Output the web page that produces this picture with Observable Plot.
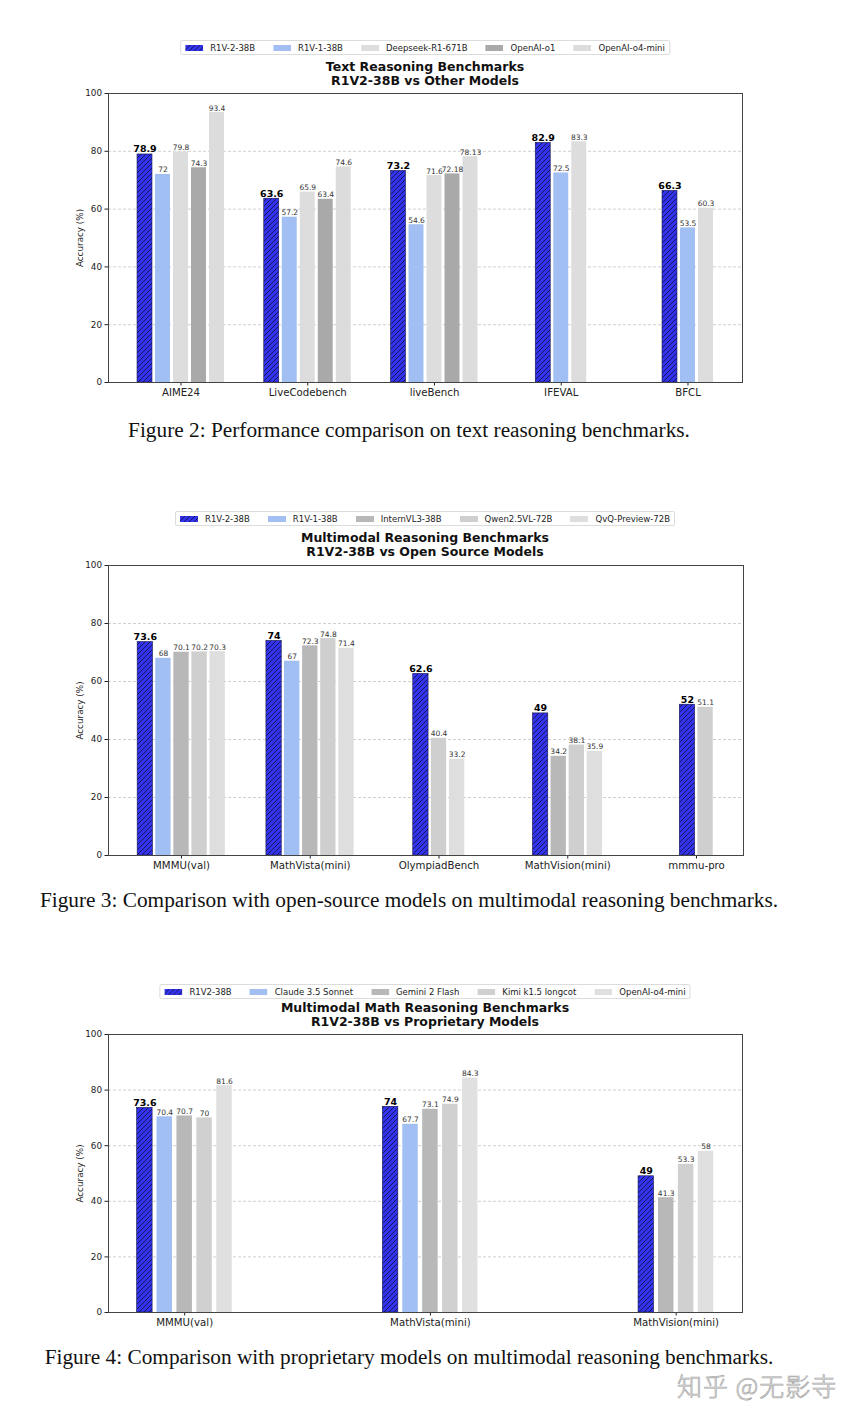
<!DOCTYPE html>
<html><head><meta charset="utf-8">
<script src="https://cdn.jsdelivr.net/npm/d3@7"></script>
<script src="https://cdn.jsdelivr.net/npm/@observablehq/plot@0.6"></script>
<style>
body{margin:0;background:#fff;width:859px;height:1420px;position:relative;overflow:hidden;font-family:"DejaVu Sans";}
.legend{position:absolute;left:425px;transform:translateX(-50%);display:flex;align-items:center;box-sizing:border-box;height:15px;border:1px solid #dcdcdc;border-radius:2px;padding:0 4px;font-size:8.5px;color:#222;background:#fff;white-space:nowrap;z-index:2}
.item{display:flex;align-items:center;margin-right:18px}
.item:last-child{margin-right:0}
.sw{width:18px;height:6px;margin-right:7px;display:block}
.title{position:absolute;left:0;width:850px;text-align:center;font-weight:bold;font-size:12.5px;line-height:14px;color:#111;z-index:2}
.caption{position:absolute;left:0;width:818px;text-align:center;font-family:"Liberation Serif";font-size:21.3px;line-height:24px;color:#111;white-space:nowrap}
.chart{position:absolute;left:0;z-index:1}
.wm{position:absolute;left:677px;top:1367px;font-family:"Noto Sans CJK SC";font-size:25px;font-weight:300;color:#f2f2f2;-webkit-text-stroke:0.7px #a8a8a8;letter-spacing:1px}
</style></head><body>
<svg width="0" height="0" style="position:absolute"><defs>
<pattern id="hatch" patternUnits="userSpaceOnUse" width="5" height="5">
<rect width="5" height="5" fill="#3333ee"/>
<path d="M-1,1 l2,-2 M0,5 l5,-5 M4,6 l2,-2" stroke="#141450" stroke-width="0.9"/>
</pattern></defs></svg>

<div class="chart" id="c1" style="top:85px"></div>
<div class="legend" id="leg1" style="top:40px"></div>
<div class="title" style="top:60px">Text Reasoning Benchmarks<br>R1V2-38B vs Other Models</div>
<div class="caption" style="top:418px">Figure 2: Performance comparison on text reasoning benchmarks.</div>

<div class="chart" id="c2" style="top:557px"></div>
<div class="legend" id="leg2" style="top:511px"></div>
<div class="title" style="top:531px">Multimodal Reasoning Benchmarks<br>R1V2-38B vs Open Source Models</div>
<div class="caption" style="top:888px">Figure 3: Comparison with open-source models on multimodal reasoning benchmarks.</div>

<div class="chart" id="c3" style="top:1026px"></div>
<div class="legend" id="leg3" style="top:984px"></div>
<div class="title" style="top:1001px">Multimodal Math Reasoning Benchmarks<br>R1V2-38B vs Proprietary Models</div>
<div class="caption" style="top:1345px">Figure 4: Comparison with proprietary models on multimodal reasoning benchmarks.</div>

<div class="wm">知乎 @无影寺</div>

<script>
// ---------- Chart 1: text reasoning ----------
const textGroups = ["AIME24", "LiveCodebench", "liveBench", "IFEVAL", "BFCL"];
const textSeries = ["R1V-2-38B", "R1V-1-38B", "Deepseek-R1-671B", "OpenAI-o1", "OpenAI-o4-mini"];
const textColors = ["url(#hatch)", "#a2bff4", "#dddddd", "#a9a9a9", "#dcdcdc"];
const textR1V2 = [78.9, 63.6, 73.2, 82.9, 66.3];
const textR1V1 = [72, 57.2, 54.6, 72.5, 53.5];
const textDeepseek = [79.8, 65.9, 71.6, 83.3, 60.3];
const textO1 = [74.3, 63.4, 72.18, null, null];
const textO4mini = [93.4, 74.6, 78.13, null, null];

// ---------- Chart 2: multimodal vs open source ----------
const mmGroups = ["MMMU(val)", "MathVista(mini)", "OlympiadBench", "MathVision(mini)", "mmmu-pro"];
const mmSeries = ["R1V-2-38B", "R1V-1-38B", "InternVL3-38B", "Qwen2.5VL-72B", "QvQ-Preview-72B"];
const mmColors = ["url(#hatch)", "#a2bff4", "#b8b8b8", "#cfcfcf", "#dedede"];
const mmR1V2 = [73.6, 74, 62.6, 49, 52];
const mmR1V1 = [68, 67, null, null, null];
const mmInternVL3 = [70.1, 72.3, null, 34.2, null];
const mmQwen = [70.2, 74.8, 40.4, 38.1, 51.1];
const mmQvQ = [70.3, 71.4, 33.2, 35.9, null];

// ---------- Chart 3: multimodal math vs proprietary ----------
const prGroups = ["MMMU(val)", "MathVista(mini)", "MathVision(mini)"];
const prSeries = ["R1V2-38B", "Claude 3.5 Sonnet", "Gemini 2 Flash", "Kimi k1.5 longcot", "OpenAI-o4-mini"];
const prColors = ["url(#hatch)", "#a2bff4", "#b8b8b8", "#d0d0d0", "#e0e0e0"];
const prR1V2 = [73.6, 74, 49];
const prClaude = [70.4, 67.7, null];
const prGemini = [70.7, 73.1, 41.3];
const prKimi = [70, 74.9, 53.3];
const prO4mini = [81.6, 84.3, 58];

const yTicks = [0, 20, 40, 60, 80, 100];

function makeLegend(id, series, colors) {
  const el = document.getElementById(id);
  series.forEach((s, i) => {
    const it = document.createElement("div");
    it.className = "item";
    it.innerHTML = `<svg class="sw" width="18" height="6"><rect width="18" height="6" fill="${colors[i]}"/></svg><span>${s}</span>`;
    el.appendChild(it);
  });
}

function makeChart(id, groups, series, values, colors, cfg) {
  const rows = [];
  groups.forEach((g, i) => {
    const present = series.map((s, j) => j).filter(j => values[j][i] != null);
    const n = present.length;
    present.forEach((j, k) => rows.push({
      group: g, series: series[j], value: values[j][i], bold: j === 0,
      pos: i + (k - (n - 1) / 2) * cfg.slot
    }));
  });
  const bw = cfg.barW;
  const chart = Plot.plot({
    width: 859, height: cfg.height,
    marginLeft: 108, marginRight: cfg.marginRight, marginTop: 8, marginBottom: cfg.height - 8 - cfg.plotH,
    style: {fontFamily: "DejaVu Sans", fontSize: "9.5px", color: "#222", background: "transparent", overflow: "visible"},
    x: {type: "linear", domain: cfg.xDomain, axis: null},
    y: {domain: [0, 100], axis: null},
    color: {type: "ordinal", domain: series, range: colors},
    marks: [
      Plot.gridY([20, 40, 60, 80], {stroke: "#c4c4c4", strokeDasharray: "3,2", strokeOpacity: 1, strokeWidth: 0.8}),
      Plot.rectY(rows, {x1: d => d.pos - bw / 2, x2: d => d.pos + bw / 2, y1: 0, y2: "value", fill: "series"}),
      Plot.rectY(rows.filter(d => d.bold), {x1: d => d.pos - bw / 2, x2: d => d.pos + bw / 2, y1: 0, y2: "value", fill: "none", stroke: "#15154a", strokeWidth: 0.6}),
      Plot.text(rows.filter(d => !d.bold), {x: "pos", y: "value", text: d => String(d.value), lineAnchor: "bottom", dy: -2, fontSize: 7.5, fill: "#333"}),
      Plot.text(rows.filter(d => d.bold), {x: "pos", y: "value", text: d => String(d.value), lineAnchor: "bottom", dy: -2, fontSize: 9.5, fontWeight: "bold", fill: "#000"}),
      Plot.axisX({ticks: groups.map((g, i) => i), tickFormat: i => groups[i], tickSize: 3.5, tickPadding: 3, fontSize: 10.2, label: null}),
      Plot.axisY({ticks: yTicks, tickSize: 3.5, tickPadding: 3, fontSize: 8.8, label: "Accuracy (%)", labelAnchor: "center", labelArrow: "none", labelOffset: 32}),
      Plot.frame({stroke: "#444", strokeWidth: 1})
    ]
  });
  document.getElementById(id).appendChild(chart);
}

makeLegend("leg1", textSeries, textColors);
makeLegend("leg2", mmSeries, mmColors);
makeLegend("leg3", prSeries, prColors);

makeChart("c1", textGroups, textSeries, [textR1V2, textR1V1, textDeepseek, textO1, textO4mini], textColors,
  {slot: 0.142, barW: 0.118, xDomain: [-0.572, 4.43], height: 330, plotH: 289, marginRight: 117});
makeChart("c2", mmGroups, mmSeries, [mmR1V2, mmR1V1, mmInternVL3, mmQwen, mmQvQ], mmColors,
  {slot: 0.1405, barW: 0.119, xDomain: [-0.567, 4.365], height: 331, plotH: 290, marginRight: 116});
makeChart("c3", prGroups, prSeries, [prR1V2, prClaude, prGemini, prKimi, prO4mini], prColors,
  {slot: 0.081, barW: 0.063, xDomain: [-0.31, 2.27], height: 319, plotH: 278, marginRight: 117});
</script>
</body></html>
